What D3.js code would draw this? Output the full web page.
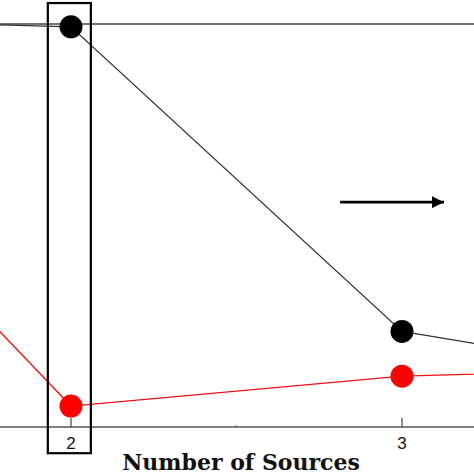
<!DOCTYPE html>
<html>
<head>
<meta charset="utf-8">
<script src="https://cdn.jsdelivr.net/npm/d3@7"></script>
<style>
  body { margin: 0; background: #fff; }
  svg { display: block; }
</style>
</head>
<body>
<svg id="graph"></svg>
<script>
// values (y in arbitrary 0..1 units, the top line = 1)
var sources = [1, 2, 3, 4];
var blackSeries = [1.016, 0.993, 0.237, 0.102];
var redSeries = [0.911, 0.052, 0.126, 0.149];
var tickValues = [2, 2.5, 3];
var tickLabels = ["2", "", "3"];
var refLevel = 1.0;
var highlightX = [1.93, 2.06];   // the boxed column
var highlightY = [-0.065, 1.052];
var arrowX = [2.813, 3.133];
var arrowY = 0.558;

var svg = d3.select("#graph")
    .attr("width", 474)
    .attr("height", 474);

var x = d3.scaleLinear().domain([2, 3]).range([71, 402]),
    y = d3.scaleLinear().domain([0, 1]).range([427, 24]);

var blackData = sources.map(function(s, i) { return {x: s, y: blackSeries[i]}; });
var redData = sources.map(function(s, i) { return {x: s, y: redSeries[i]}; });

var line = d3.line()
    .x(function(d) { return x(d.x); })
    .y(function(d) { return y(d.y); });

// reference line across the top
svg.append("line")
    .attr("x1", 0).attr("x2", 474)
    .attr("y1", y(refLevel)).attr("y2", y(refLevel))
    .attr("stroke", "#444")
    .attr("stroke-width", 1.6);

// x axis
var xaxis = svg.append("g")
    .attr("transform", "translate(0," + y(0) + ")");

xaxis.append("line")
    .attr("x1", 0).attr("x2", 474)
    .attr("stroke", "#555")
    .attr("stroke-width", 1.5);

xaxis.selectAll(".tick")
  .data(tickValues)
  .enter().append("line")
    .attr("class", "tick")
    .attr("x1", function(d) { return x(d); })
    .attr("x2", function(d) { return x(d); })
    .attr("y1", function(d, i) { return tickLabels[i] ? -9 : -1.5; })
    .attr("y2", 0)
    .attr("stroke", "#444")
    .attr("stroke-width", 1.2);

xaxis.selectAll(".tlabel")
  .data(tickValues)
  .enter().append("text")
    .attr("class", "tlabel")
    .attr("x", function(d) { return x(d); })
    .attr("y", 22)
    .attr("text-anchor", "middle")
    .attr("font-family", "Liberation Sans, Arial, sans-serif")
    .attr("font-size", 17)
    .attr("fill", "#111")
    .text(function(d, i) { return tickLabels[i]; });

svg.append("text")
    .attr("x", 241)
    .attr("y", 470)
    .attr("text-anchor", "middle")
    .attr("font-family", "DejaVu Serif, serif")
    .attr("font-weight", "bold")
    .attr("font-size", 22)
    .attr("fill", "#111")
    .text("Number of Sources");

// series
svg.append("path")
    .datum(blackData)
    .attr("d", line)
    .attr("fill", "none")
    .attr("stroke", "#333")
    .attr("stroke-width", 1.3);

svg.append("path")
    .datum(redData)
    .attr("d", line)
    .attr("fill", "none")
    .attr("stroke", "#ee1111")
    .attr("stroke-width", 1.3);

svg.selectAll(".bdot")
  .data(blackData)
  .enter().append("circle")
    .attr("class", "bdot")
    .attr("cx", function(d) { return x(d.x); })
    .attr("cy", function(d) { return y(d.y); })
    .attr("r", 11.5)
    .attr("fill", "#000");

svg.selectAll(".rdot")
  .data(redData)
  .enter().append("circle")
    .attr("class", "rdot")
    .attr("cx", function(d) { return x(d.x); })
    .attr("cy", function(d) { return y(d.y); })
    .attr("r", 11.5)
    .attr("fill", "#ff0000");

// highlight box around 2 sources
svg.append("rect")
    .attr("x", x(highlightX[0]))
    .attr("y", y(highlightY[1]))
    .attr("width", x(highlightX[1]) - x(highlightX[0]))
    .attr("height", y(highlightY[0]) - y(highlightY[1]))
    .attr("fill", "none")
    .attr("stroke", "#000")
    .attr("stroke-width", 2.2);

// arrow
svg.append("defs").append("marker")
    .attr("id", "head")
    .attr("viewBox", "0 0 10 10")
    .attr("refX", 10).attr("refY", 5)
    .attr("markerUnits", "userSpaceOnUse")
    .attr("markerWidth", 13).attr("markerHeight", 12)
    .attr("orient", "auto")
  .append("path")
    .attr("d", "M0,0L10,5L0,10Z")
    .attr("fill", "#000");

svg.append("line")
    .attr("x1", x(arrowX[0])).attr("x2", x(arrowX[1]) - 2)
    .attr("y1", y(arrowY)).attr("y2", y(arrowY))
    .attr("stroke", "#000")
    .attr("stroke-width", 2.6)
    .attr("marker-end", "url(#head)");
</script>
</body>
</html>
